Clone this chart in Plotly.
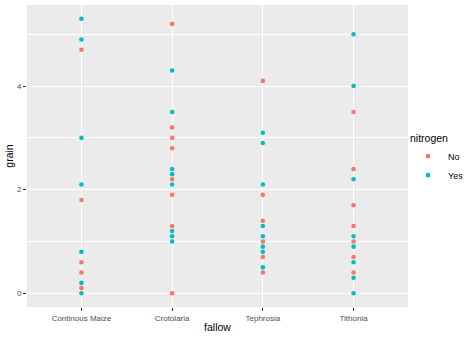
import plotly.graph_objects as go

categories = ["Continous Maize", "Crotolaria", "Tephrosia", "Tithonia"]

no_maize = [4.7, 1.8, 0.6, 0.4, 0.1]
yes_maize = [5.3, 4.9, 3.0, 2.1, 0.8, 0.2, 0.0]
no_crot = [5.2, 3.2, 3.0, 2.8, 2.2, 1.9, 1.3, 0.0]
yes_crot = [4.3, 3.5, 2.4, 2.3, 2.1, 1.2, 1.1, 1.0]
no_teph = [4.1, 1.9, 1.4, 1.0, 0.7, 0.4]
yes_teph = [3.1, 2.9, 2.1, 1.3, 1.1, 0.9, 0.8, 0.5]
no_tith = [3.5, 2.4, 1.7, 1.3, 1.0, 0.7, 0.4]
yes_tith = [5.0, 4.0, 2.2, 1.1, 0.9, 0.6, 0.3, 0.0]

no_vals = [no_maize, no_crot, no_teph, no_tith]
yes_vals = [yes_maize, yes_crot, yes_teph, yes_tith]

def flat(groups):
    xs, ys = [], []
    for cat, vals in zip(categories, groups):
        xs += [cat] * len(vals)
        ys += vals
    return xs, ys

fig = go.Figure()
for name, groups, color in [("No", no_vals, "#F8766D"), ("Yes", yes_vals, "#00BFC4")]:
    xs, ys = flat(groups)
    fig.add_trace(go.Scatter(x=xs, y=ys, mode="markers", name=name,
                             marker=dict(color=color, size=4.6, line=dict(width=0))))

fig.update_layout(
    width=474, height=338,
    margin=dict(l=27, r=63, t=5, b=31),
    plot_bgcolor="#EBEBEB", paper_bgcolor="white",
    font=dict(family="Liberation Sans, Arial", color="black"),
    showlegend=True,
    legend=dict(title=dict(text="nitrogen", font=dict(size=10.5)), x=1.0, xanchor="left",
                y=0.49, yanchor="middle", font=dict(size=9), bgcolor="white",
                itemsizing="trace", tracegroupgap=0),
)
fig.update_xaxes(
    type="category", categoryorder="array", categoryarray=categories,
    range=[-0.6, 3.6], showgrid=True, gridcolor="white", gridwidth=1.1,
    zeroline=False, ticks="outside", ticklen=3, tickcolor="#333333",
    tickfont=dict(size=8, color="#4D4D4D"), automargin=False,
    title=dict(text="fallow", font=dict(size=10.5), standoff=2),
)
fig.update_yaxes(
    range=[-0.265, 5.565], tickvals=[0, 2, 4], showgrid=True, gridcolor="white",
    gridwidth=1.1, zeroline=False, ticks="outside", ticklen=3, tickcolor="#333333",
    tickfont=dict(size=8, color="#4D4D4D"), automargin=False,
    minor=dict(tickvals=[1, 3, 5], showgrid=True, gridcolor="white", gridwidth=0.5, ticks=""),
    title=dict(text="grain", font=dict(size=10.5), standoff=1),
)

fig.write_html("out.html")
